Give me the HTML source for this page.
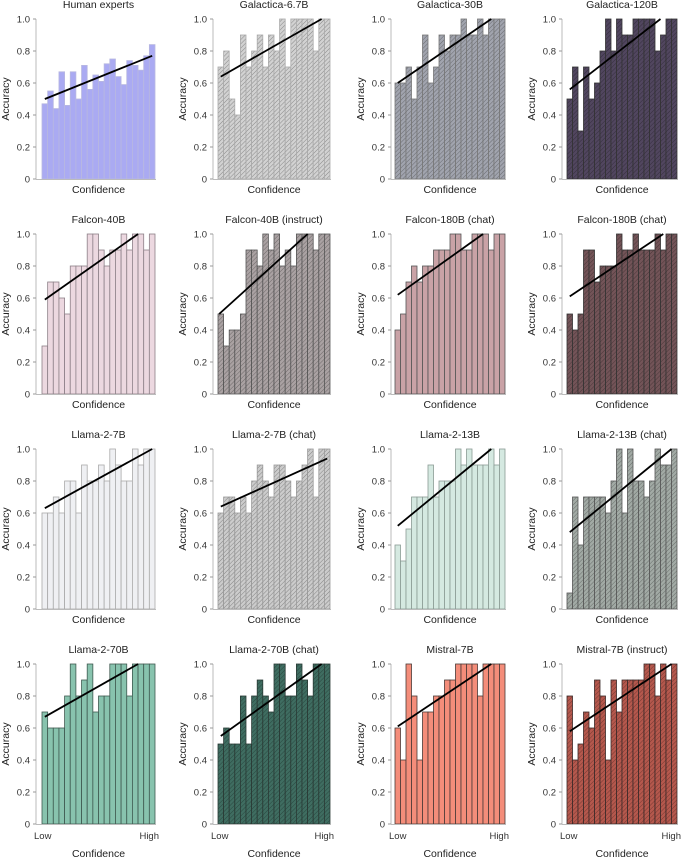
<!DOCTYPE html>
<html><head><meta charset="utf-8"><style>
html,body{margin:0;padding:0;background:#fff;}
svg{display:block;font-family:"Liberation Sans",sans-serif;}
</style></head><body>
<svg id="chart" width="685" height="858" viewBox="0 0 685 858">
<defs id="defs"></defs>
</svg>
<script>
const titles = ["Human experts","Galactica-6.7B","Galactica-30B","Galactica-120B",
"Falcon-40B","Falcon-40B (instruct)","Falcon-180B (chat)","Falcon-180B (chat)",
"Llama-2-7B","Llama-2-7B (chat)","Llama-2-13B","Llama-2-13B (chat)",
"Llama-2-70B","Llama-2-70B (chat)","Mistral-7B","Mistral-7B (instruct)"];
const acc0 = [0.47,0.55,0.44,0.67,0.46,0.67,0.50,0.71,0.56,0.65,0.61,0.72,0.75,0.64,0.59,0.74,0.71,0.68,0.77,0.84];
const acc1 = [0.7,0.8,0.5,0.4,0.9,0.7,0.8,0.9,0.7,0.9,0.8,1.0,0.7,1.0,1.0,1.0,1.0,0.8,1.0,1.0];
const acc2 = [0.6,0.6,0.7,0.5,0.7,0.9,0.6,0.7,0.9,0.8,0.9,0.9,1.0,0.9,0.9,1.0,0.9,1.0,1.0,1.0];
const acc3 = [0.5,0.7,0.3,0.7,0.5,0.6,0.8,1.0,0.8,1.0,0.9,0.9,1.0,1.0,1.0,1.0,0.8,0.9,1.0,1.0];
const acc4 = [0.3,0.7,0.7,0.6,0.5,0.8,0.8,0.8,1.0,1.0,0.9,0.8,0.9,0.9,1.0,0.9,1.0,1.0,0.9,1.0];
const acc5 = [0.5,0.3,0.4,0.4,0.5,0.9,0.9,0.8,1.0,0.9,1.0,0.8,0.9,0.8,1.0,1.0,1.0,0.9,1.0,1.0];
const acc6 = [0.4,0.5,0.7,0.8,0.7,0.8,0.8,0.9,0.9,0.9,1.0,1.0,0.9,0.9,1.0,1.0,1.0,0.9,1.0,1.0];
const acc7 = [0.5,0.4,0.5,0.9,0.9,0.7,0.8,0.8,0.8,1.0,0.9,0.9,1.0,0.9,0.9,0.9,1.0,0.9,1.0,1.0];
const acc8 = [0.6,0.6,0.7,0.6,0.8,0.8,0.6,0.9,0.8,0.8,0.9,0.8,1.0,0.9,0.8,0.8,1.0,0.9,1.0,1.0];
const acc9 = [0.6,0.7,0.7,0.6,0.7,0.6,0.8,0.9,0.8,0.7,0.9,0.9,0.8,0.7,0.8,0.9,1.0,0.7,1.0,1.0];
const acc10 = [0.4,0.3,0.5,0.7,0.7,0.7,0.9,0.7,0.8,0.8,0.8,1.0,0.9,1.0,0.9,0.9,0.9,1.0,0.9,1.0];
const acc11 = [0.1,0.7,0.4,0.7,0.7,0.7,0.7,0.6,0.8,1.0,0.6,1.0,0.8,0.8,0.7,0.8,1.0,0.9,0.9,1.0];
const acc12 = [0.7,0.6,0.6,0.6,0.8,1.0,0.8,0.9,1.0,0.7,0.8,0.8,1.0,1.0,1.0,0.8,1.0,1.0,1.0,1.0];
const acc13 = [0.5,0.6,0.5,0.5,0.8,0.5,0.8,0.9,0.8,0.7,1.0,1.0,0.8,0.8,1.0,0.9,0.8,1.0,1.0,1.0];
const acc14 = [0.6,0.4,1.0,0.8,0.4,0.7,0.7,0.8,0.8,0.9,0.9,1.0,1.0,1.0,1.0,0.8,1.0,1.0,1.0,1.0];
const acc15 = [0.8,0.4,0.5,0.7,0.6,0.9,0.8,0.4,0.9,0.7,0.9,0.9,0.9,0.9,1.0,1.0,0.8,1.0,0.9,1.0];
const accs = [acc0,acc1,acc2,acc3,acc4,acc5,acc6,acc7,acc8,acc9,acc10,acc11,acc12,acc13,acc14,acc15];
// fit line: [startBin, startValue, endBin, endValue]
const fitStartBin = [0.5,0.5,0.5,0.5, 0.5,0.2,0.5,0.5, 0.5,0.5,0.5,0.5, 0.5,0.5,0.5,0.5];
const fitStartVal = [0.50,0.64,0.60,0.56, 0.59,0.50,0.62,0.61, 0.63,0.64,0.52,0.48, 0.67,0.55,0.61,0.58];
const fitEndBin = [19.5,18.5,17.5,17.0, 17.0,16.0,16.0,17.5, 19.5,19.5,17.5,19.0, 17.0,18.5,17.5,19.0];
const fitEndVal = [0.77,1.0,1.0,1.0, 1.0,1.0,1.0,1.0, 1.0,0.94,1.0,1.0, 1.0,1.0,1.0,1.0];
const yTicks = [0,0.2,0.4,0.6,0.8,1.0];
const yTickLabels = ["0","0.2","0.4","0.6","0.8","1.0"];
const fills = ["#aaaaf2","#d2d2d2","#a1a4ae","#51465f","#ecd8e0","#aaa2a3","#c9a2a6","#735458","#eff0f3","#cccccc","#d5e9e1","#a2aaa5","#88c3ae","#3f6d61","#f48d7a","#b5584d"];
const hatched = [false,true,true,true,false,true,false,true,false,true,false,true,false,true,false,true];
const strokes = ["#b8b8e0","#aaaaaa","#777","#333","#8d8088","#555","#555","#333","#aaaaaa","#999","#8a9b94","#555","#3f5a50","#2a3a35","#4a3a37","#3a2a28"];

const NS="http://www.w3.org/2000/svg";
const svg=document.getElementById('chart');
const defs=document.getElementById('defs');
const colAxis=[36,213,391,562];
const colX0=[42,218,395,567];
const colX1=[155,330,505,677];
const rowTop=[19,234,449,664];
const rowBot=[179,394,609,824];
function mk(t,a,p){const e=document.createElementNS(NS,t);for(const k in a)e.setAttribute(k,a[k]);(p||svg).appendChild(e);return e;}

for(let i=0;i<16;i++){
  const r=Math.floor(i/4), c=i%4;
  const g=mk('g',{});
  
  
  const yS=v=>rowBot[r]-(rowBot[r]-rowTop[r])*v;
  const bw=(colX1[c]-colX0[c])/20;
  const xS=b=>colX0[c]+b*bw;
  let fill=fills[i];
  if(hatched[i]){
    const p=mk('pattern',{id:'h'+i,patternUnits:'userSpaceOnUse',width:3,height:3,patternTransform:'rotate(45)'},defs);
    mk('rect',{x:0,y:0,width:3,height:3,fill:fills[i]},p);
    mk('line',{x1:0,y1:0,x2:0,y2:3,stroke:'rgba(0,0,0,0.35)','stroke-width':1},p);
    fill='url(#h'+i+')';
  }
  const t=mk('text',{x:(colX0[c]+colX1[c])/2,y:rowTop[r]-11,'text-anchor':'middle','font-size':10.5,fill:'#222'},g);
  t.textContent=titles[i];
  
  
  accs[i].forEach((v,b)=>{
    const rc=mk('rect',{x:xS(b),y:yS(v),width:bw,height:yS(0)-yS(v),fill:fill,stroke:strokes[i],'stroke-width':0.8},g);
    
    
  });
  mk('line',{x1:colAxis[c],y1:rowTop[r],x2:colAxis[c],y2:rowBot[r],stroke:'#bbb','stroke-width':1},g);
  mk('line',{x1:colAxis[c],y1:rowBot[r]+0.5,x2:colX1[c]+1,y2:rowBot[r]+0.5,stroke:'#bbb','stroke-width':1},g);
  yTicks.forEach((tv,k)=>{
    mk('line',{x1:colAxis[c]-3,y1:yS(tv),x2:colAxis[c],y2:yS(tv),stroke:'#999','stroke-width':1},g);
    const tl=mk('text',{x:colAxis[c]-6,y:yS(tv)+3.5,'text-anchor':'end','font-size':9.5,fill:'#333'},g);
    tl.textContent=yTickLabels[k];
    
    
  });
  const yl=mk('text',{x:0,y:0,'text-anchor':'middle','font-size':10.5,fill:'#222',transform:`translate(${colAxis[c]-27},${(rowTop[r]+rowBot[r])/2}) rotate(-90)`},g);
  yl.textContent='Accuracy';
  
  
  const xl=mk('text',{x:(colX0[c]+colX1[c])/2,y:r===3?rowBot[r]+33:rowBot[r]+14,'text-anchor':'middle','font-size':10.5,fill:'#222'},g);
  xl.textContent='Confidence';
  
  
  if(r===3){
    const lo=mk('text',{x:colAxis[c]-2,y:rowBot[r]+15,'font-size':9.5,fill:'#333'},g);
    lo.textContent='Low';
    
    
    const hi=mk('text',{x:colX1[c]+4,y:rowBot[r]+15,'text-anchor':'end','font-size':9.5,fill:'#333'},g);
    hi.textContent='High';
    
    
  }
  const fl=mk('line',{x1:xS(fitStartBin[i]),y1:yS(fitStartVal[i]),x2:xS(fitEndBin[i]),y2:yS(fitEndVal[i]),stroke:'#000','stroke-width':1.8},g);
  
  
}
</script>
</body></html>
